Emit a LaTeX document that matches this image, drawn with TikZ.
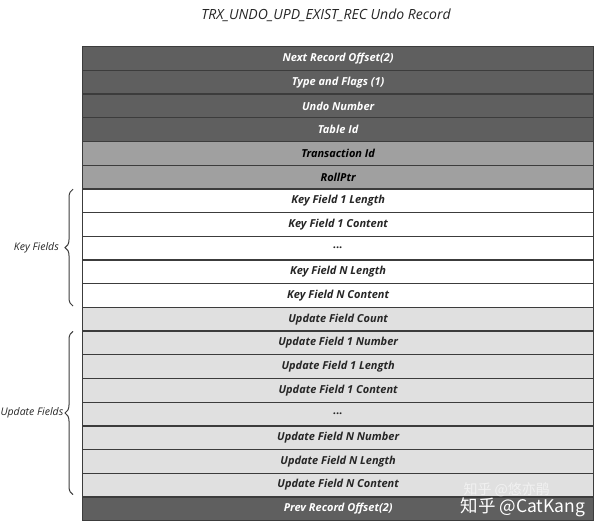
\documentclass[tikz,border=0pt]{standalone}
\usepackage{fontspec}
\setmainfont{Open Sans}
\newfontfamily\cjkfont{Noto Sans CJK SC}
\usetikzlibrary{decorations.pathreplacing,calc}
\definecolor{darkrow}{HTML}{5F5F5F}
\definecolor{midrow}{HTML}{A0A0A0}
\definecolor{lightrow}{HTML}{E0E0E0}
\definecolor{rule}{HTML}{3C3C3C}
\tikzset{
  rowbox/.style={draw=rule, line width=1.3pt, rectangle, minimum width=511pt, minimum height=23.7pt, inner sep=0pt, anchor=north west, font=\fontsize{11}{12}\selectfont\bfseries\itshape},
  dark/.style={rowbox, fill=darkrow, text=white},
  mid/.style={rowbox, fill=midrow, text=black},
  plain/.style={rowbox, fill=white, text=black!85},
  light/.style={rowbox, fill=lightrow, text=black!85},
  bracestyle/.style={draw=rule, line width=1pt, decorate, decoration={brace, amplitude=8pt}},
  sidelabel/.style={font=\fontsize{10.5}{12}\selectfont\itshape, text=black!85, inner sep=1pt, anchor=east},
}
\begin{document}
\begin{tikzpicture}[x=1pt, y=-1pt]
\useasboundingbox (0,0) rectangle (600,523);
\fill[white] (0,0) rectangle (600,523);
\node[font=\fontsize{14}{16}\selectfont\itshape, text=black!85] (title) at (326,15) {TRX\_UNDO\_UPD\_EXIST\_REC Undo Record};
\foreach \i/\s/\t in {
  0/dark/{Next Record Offset(2)},
  1/dark/{Type and Flags (1)},
  2/dark/{Undo Number},
  3/dark/{Table Id},
  4/mid/{Transaction Id},
  5/mid/{RollPtr},
  6/plain/{Key Field 1 Length},
  7/plain/{Key Field 1 Content},
  8/plain/{\textbf{...}},
  9/plain/{Key Field N Length},
  10/plain/{Key Field N Content},
  11/light/{Update Field Count},
  12/light/{Update Field 1 Number},
  13/light/{Update Field 1 Length},
  14/light/{Update Field 1 Content},
  15/light/{...},
  16/light/{Update Field N Number},
  17/light/{Update Field N Length},
  18/light/{Update Field N Content},
  19/dark/{Prev Record Offset(2)}}
{
  \node[\s] (r\i) at (82, {46+\i*23.7}) {\t};
}
% Key fields brace
\coordinate (kb) at ($(r10.south west)+(-9,-2)$);
\coordinate (kt) at ($(r6.north west)+(-9,1)$);
\draw[bracestyle] (kb) -- (kt);
\node[sidelabel] (klabel) at ($(kb)!0.5!(kt)+(-13,0)$) {Key Fields};
% Update fields brace
\coordinate (ub) at ($(r18.south west)+(-9,-3)$);
\coordinate (ut) at ($(r12.north west)+(-9,1)$);
\draw[bracestyle] (ub) -- (ut);
\node[sidelabel] (ulabel) at ($(ub)!0.5!(ut)+(-8.5,0)$) {Update Fields};
% watermark
\node[font=\cjkfont\fontsize{14}{15}\selectfont, text=white, opacity=0.55, anchor=west] (wm1) at (460,490) {知乎 @悠亦鹃};
\node[font=\cjkfont\fontsize{17.5}{19}\selectfont, text=white, anchor=west] (wm2) at (457,507) {知乎 @CatKang};
\end{tikzpicture}
\end{document}
